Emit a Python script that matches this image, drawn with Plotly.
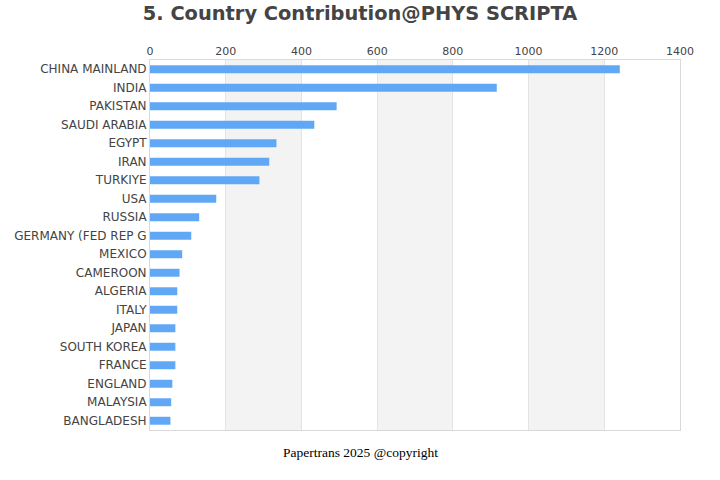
import plotly.graph_objects as go

countries = ["CHINA MAINLAND", "INDIA", "PAKISTAN", "SAUDI ARABIA", "EGYPT", "IRAN",
             "TURKIYE", "USA", "RUSSIA", "GERMANY (FED REP G", "MEXICO", "CAMEROON",
             "ALGERIA", "ITALY", "JAPAN", "SOUTH KOREA", "FRANCE", "ENGLAND",
             "MALAYSIA", "BANGLADESH"]
counts = [1241, 916, 493, 434, 334, 315, 289, 175, 130, 109, 85, 78,
          72, 72, 67, 67, 67, 59, 56, 54]
tick_vals = [0, 200, 400, 600, 800, 1000, 1200, 1400]
bands = [(200, 400), (600, 800), (1000, 1200)]

fig = go.Figure(go.Bar(
    x=counts, y=countries, orientation="h",
    marker=dict(color="#60a8f5", line=dict(width=0)),
    width=0.43,
))

shapes = [dict(type="rect", xref="x", yref="paper", x0=a, x1=b, y0=0, y1=1,
               fillcolor="#f3f3f3", line=dict(width=0), layer="below") for a, b in bands]

fig.update_layout(
    width=720, height=480,
    margin=dict(l=150, r=40, t=60, b=50),
    paper_bgcolor="white", plot_bgcolor="white",
    title=dict(text="<b>5. Country Contribution@PHYS SCRIPTA</b>", x=0.5, xanchor="center",
               y=0.972, yanchor="middle",
               font=dict(family="DejaVu Sans", size=19.4, color="#444444")),
    font=dict(family="DejaVu Sans", size=12, color="#444444"),
    shapes=shapes,
    showlegend=False,
    annotations=[dict(text="Papertrans 2025 @copyright", xref="paper", yref="paper",
                      x=0.397, y=-0.06, xanchor="center", yanchor="middle", showarrow=False,
                      font=dict(family="Liberation Serif", size=13.5, color="#000000"))],
)
fig.update_xaxes(side="top", range=[0, 1400], tickvals=tick_vals, showgrid=True,
                 gridcolor="#e3e3e3", gridwidth=1, showline=True, linecolor="#d9d9d9",
                 linewidth=1, mirror=True, zeroline=False, ticks="",
                 tickfont=dict(family="DejaVu Sans", size=11, color="#444444"))
fig.update_yaxes(autorange="reversed", showline=True, linecolor="#d9d9d9", linewidth=1,
                 mirror=True, showgrid=False, ticks="", ticklabelstandoff=0,
                 tickfont=dict(family="DejaVu Sans", size=12, color="#444444"))

fig.write_html("out.html")
